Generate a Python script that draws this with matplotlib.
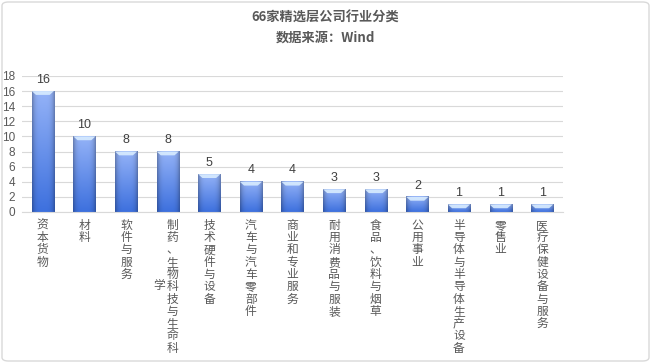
import numpy as np
import matplotlib
matplotlib.use("Agg")
import matplotlib.pyplot as plt
from matplotlib.patches import FancyBboxPatch, Polygon

plt.rcParams['font.family'] = ['Noto Sans CJK SC', 'DejaVu Sans']

categories = ["资本货物", "材料", "软件与服务", "制药、生物科技与生命科学", "技术硬件与设备",
              "汽车与汽车零部件", "商业和专业服务", "耐用消费品与服装", "食品、饮料与烟草",
              "公用事业", "半导体与半导体生产设备", "零售业", "医疗保健设备与服务"]
values = [16, 10, 8, 8, 5, 4, 4, 3, 3, 2, 1, 1, 1]
yticks = [0, 2, 4, 6, 8, 10, 12, 14, 16, 18]

W, H = 651, 363
fig = plt.figure(figsize=(W/100, H/100), dpi=100)
fig.patch.set_facecolor("white")
border = FancyBboxPatch((2/W, 2/H), 1-4/W, 1-4/H, boxstyle="round,pad=0,rounding_size=0.01",
                        transform=fig.transFigure, fill=False, ec="#d9d9d9", lw=1)
fig.patches.append(border)

ax = fig.add_axes([22/W, 1-212/H, (563-22)/W, 136/H])
n = len(categories)
ax.set_xlim(-0.5, n-0.5)
ax.set_ylim(0, 18)
ax.set_yticks(yticks)
ax.set_yticklabels([str(t) for t in yticks], fontsize=8.5, color="#595959", family="Liberation Sans")
ax.tick_params(axis='y', length=0, pad=5)
ax.set_xticks([])
for s in ["top", "right", "left"]:
    ax.spines[s].set_visible(False)
ax.spines["bottom"].set_color("#d9d9d9")
ax.grid(axis='y', color="#d9d9d9", lw=0.8)
ax.set_axisbelow(True)

# gradient bars
top_c = np.array([0.58, 0.70, 0.97])
bot_c = np.array([0.24, 0.44, 0.87])
ny, nx = 100, 40
tv = np.linspace(0, 1, ny)[:, None]
xs = np.linspace(-1, 1, nx)[None, :]
bw = 0.53
for i, v in enumerate(values):
    grad = top_c[None, None, :] * (1 - tv[..., None]) + bot_c[None, None, :] * tv[..., None]
    shade = 1 - 0.28 * (np.abs(xs) ** 4)
    img = np.clip(grad * shade[..., None], 0, 1)
    ax.imshow(img, extent=(i-bw/2, i+bw/2, 0, v), aspect='auto', zorder=2, interpolation='bilinear')
    cap = 0.5
    poly = Polygon([(i-bw/2, v), (i+bw/2, v), (i+bw/2-0.1, v-cap), (i-bw/2+0.1, v-cap)],
                   closed=True, fc="#d8ecff", ec="none", zorder=3, alpha=0.9)
    ax.add_patch(poly)
    ax.text(i, v + 0.7, str(v), ha='center', va='bottom', fontsize=9, color="#404040",
            family="Liberation Sans", zorder=4)

ls = 0.93
for i, c in enumerate(categories):
    if c == "制药、生物科技与生命科学":
        col1 = c[:11]
        col2 = c[11:]
        ax.text(i + 0.12, -0.9, "\n".join(col1), ha='center', va='top', fontsize=8.5,
                color="#595959", linespacing=ls, clip_on=False)
        ax.text(i - 0.2, -0.9 - 5 * 1.6, "\n".join(col2), ha='center', va='top', fontsize=8.5,
                color="#595959", linespacing=ls, clip_on=False)
    else:
        ax.text(i, -0.9, "\n".join(c), ha='center', va='top', fontsize=8.5,
                color="#595959", linespacing=ls, clip_on=False)

fig.text(0.5, 1-18/H, "66家精选层公司行业分类", ha='center', va='center', fontsize=9.5,
         color="#595959", fontweight='bold')
fig.text(0.5, 1-38/H, "数据来源：Wind", ha='center', va='center', fontsize=9.5,
         color="#595959", fontweight='bold')

fig.savefig("out.png", dpi=100, facecolor="white")
